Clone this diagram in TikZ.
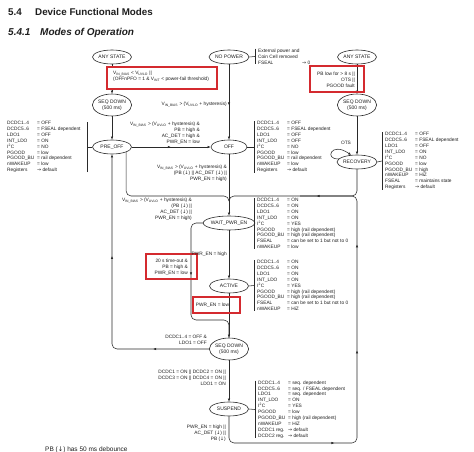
\documentclass[tikz,border=0pt]{standalone}
\usepackage{fontspec}
\setmainfont{Liberation Sans}
\newfontfamily\symf{DejaVu Sans}
\usetikzlibrary{shapes.geometric,arrows.meta,decorations.markings}
\newcommand\mydn{{\symf\char"2193}}
\newcommand\myto{{\symf\char"2192}}
\newcommand\li[2]{\makebox[30pt][l]{#1}#2}
\newcommand\itc{I\textsuperscript{2}C}
\newcommand\vib{V\textsubscript{IN\_BIAS}}
\newcommand\vuv{V\textsubscript{UVLO}}
\definecolor{tc}{HTML}{1E1E1E}
\definecolor{lc}{HTML}{2A2A2A}
\definecolor{rb}{HTML}{D42A2F}
\tikzset{
 st/.style={ellipse, draw=lc, line width=0.6pt, minimum width=39pt, minimum height=14pt, inner sep=0pt, font=\fontsize{5}{5.6}\selectfont, align=center, fill=white, text=tc},
 st2/.style={st, minimum height=22pt},
 ln/.style={draw=lc, line width=0.55pt},
 arr/.style={ln, -{Latex[length=3pt,width=2.4pt]}},
 mk/.style={postaction={decorate,decoration={markings,mark=at position #1 with {\arrow{Latex[length=3pt,width=2.4pt]}}}}},
 lab/.style={font=\fontsize{4.8}{5.9}\selectfont, inner sep=0pt, text=tc},
 labr/.style={lab, align=right, anchor=east},
 labl/.style={lab, align=left, anchor=west},
 redbox/.style={draw=rb, line width=1.4pt, inner sep=0pt},
 head/.style={anchor=base west, inner sep=0pt, text=tc},
}
\begin{document}
\begin{tikzpicture}[x=1pt,y=-1pt]
\fill[white] (0,0) rectangle (474,452);
\useasboundingbox (0,0) rectangle (474,452);

% headings
\node[head, font=\fontsize{9.8}{12}\selectfont\bfseries] (h1a) at (8,16) {5.4};
\node[head, font=\fontsize{9.8}{12}\selectfont\bfseries] (h1b) at (35,16) {Device Functional Modes};
\node[head, font=\fontsize{10}{12}\selectfont\bfseries\itshape] (h2a) at (8,36) {5.4.1};
\node[head, font=\fontsize{10}{12}\selectfont\bfseries\itshape] (h2b) at (40,36) {Modes of Operation};

% states
\node[st] (anyL) at (112,57) {ANY STATE};
\node[st, minimum width=40pt] (nopow) at (229,57) {NO POWER};
\node[st] (anyR) at (357,57) {ANY STATE};
\node[st2] (seqL) at (112,105) {SEQ DOWN\\(500 ms)};
\node[st2] (seqR) at (357,105) {SEQ DOWN\\(500 ms)};
\node[st] (preoff) at (112,147) {PRE\_OFF};
\node[st, minimum width=36pt] (off) at (229,147) {OFF};
\node[st, minimum width=40pt] (recov) at (357,162) {RECOVERY};
\node[st, minimum width=40pt] (wait) at (229,223) {WAIT\_PWR\_EN};
\node[st] (active) at (229,286) {ACTIVE};
\node[st2] (seqd) at (229,349) {SEQ DOWN\\(500 ms)};
\node[st] (susp) at (229,409) {SUSPEND};

% connectors
\draw[arr] (anyL) -- (seqL);
\draw[arr] (anyR) -- (seqR);
\draw[arr, mk=41pt] (nopow) -- (off);
\draw[arr] (seqL) -- (preoff);
\draw[arr] (seqR) -- (recov);
\draw[arr, mk=39pt] (preoff) -- (off);
\coordinate (jn) at (229,201);
\draw[ln] (off) -- (jn);
\draw[ln, rounded corners=5pt] (preoff.-20) |- (229,196) -- (jn);
\draw[ln, rounded corners=5pt, mk=65pt] (recov.south) |- (229,196) -- (jn);
\draw[ln, rounded corners=5pt, mk=130pt, mk=243pt, mk=349pt] (susp.south) |- (357,443) -- (357,196) -- (300,196);
\draw[arr] (jn) -- (wait);
\draw[arr] (wait) -- (active);
\draw[arr] (active) -- (seqd);
\draw[ln, rounded corners=5pt, mk=62pt] (wait.west) -| (191,320) -| (seqd.north);
\draw[arr, rounded corners=5pt, mk=56pt, mk=188pt] (seqd.west) -| (preoff.south);
\draw[arr] (seqd) -- (susp);
\draw[arr] (recov.170) .. controls (324,160) and (331,141) .. (recov.130);
\node[lab] (ots) at (346,143) {OTS};

% red boxes
\node[redbox, fill=white, minimum width=110pt, minimum height=22pt] (rbA) at (162,78) {};
\node[labl] (tA) at (113,76.5) {\vib{} < \vuv{} ||\\(OFFnPFO = 1 \& V\textsubscript{INT} < power-fail threshold)};
\node[redbox, minimum width=54pt, minimum height=26pt] (rbB) at (337,79) {};
\node[labr] (tB) at (355,79.5) {PB low for > 8 s ||\\OTS ||\\PGOOD fault};
\node[redbox, minimum width=51pt, minimum height=25pt] (rbC) at (171.5,266.5) {};
\node[labr] (tC) at (188,267) {20 s time-out \&\\PB = high \&\\PWR\_EN = low};
\node[redbox, minimum width=47pt, minimum height=16pt] (rbD) at (216.5,305) {};
\node[lab] (tD) at (212.5,305) {PWR\_EN = low};

% transition labels
\node[labr] (lbNP) at (227,105) {\vib{} > (\vuv{} + hysteresis)};
\node[labr] (lbPO) at (200,133) {\vib{} > (\vuv{} + hysteresis) \&\\PB = high \&\\AC\_DET = high \&\\PWR\_EN = low};
\node[labr] (lbOF) at (227,173.5) {\vib{} > (\vuv{} + hysteresis) \&\\(PB (\mydn) || AC\_DET (\mydn) ||\\PWR\_EN = high)};
\node[labr] (lbPW) at (192,209.5) {\vib{} > (\vuv{} + hysteresis) \&\\(PB (\mydn) ||\\AC\_DET (\mydn) ||\\PWR\_EN = high)};
\node[labr] (lbWA) at (227,254) {PWR\_EN = high};
\node[labr] (lbSD) at (207,340) {DCDC1..4 = OFF \&\\LDO1 = OFF};
\node[labr] (lbSS) at (226,378) {DCDC1 = ON || DCDC2 = ON ||\\DCDC3 = ON || DCDC4 = ON ||\\LDO1 = ON};
\node[labr] (lbSU) at (226,433) {PWR\_EN = high ||\\AC\_DET (\mydn) ||\\PB (\mydn)};

% external power note
\node[labl] (ext) at (258,56.5) {External power and\\Coin Cell removed\\FSEAL};
\draw[ln] ([xshift=-3pt]ext.north west) -- ([xshift=-3pt]ext.south west);
\draw[ln] (nopow.east) -- ([xshift=-3pt]ext.west);
\node[lab, anchor=west] (ext0) at (302,63) {\myto\ 0};

% state lists
\node[labl] (lPre) at (7,147) {\li{DCDC1..4}{= OFF}\\\li{DCDC5..6}{= FSEAL dependent}\\\li{LDO1}{= OFF}\\\li{INT\_LDO}{= ON}\\\li{\itc}{= NO}\\\li{PGOOD}{= low}\\\li{PGOOD\_BU}{= rail dependent}\\\li{nWAKEUP}{= low}\\\li{Registers}{\myto\ default}};
\coordinate (bPre) at (87,147);
\draw[ln] ([yshift=-25pt]bPre) -- ([yshift=25pt]bPre);
\draw[ln] (preoff.west) -- (bPre);

\node[labl] (lOff) at (257,147) {\li{DCDC1..4}{= OFF}\\\li{DCDC5..6}{= FSEAL dependent}\\\li{LDO1}{= OFF}\\\li{INT\_LDO}{= OFF}\\\li{\itc}{= NO}\\\li{PGOOD}{= low}\\\li{PGOOD\_BU}{= rail dependent}\\\li{nWAKEUP}{= low}\\\li{Registers}{\myto\ default}};
\draw[ln] ([xshift=-3pt]lOff.north west) -- ([xshift=-3pt]lOff.south west);
\draw[ln] (off.east) -- ([xshift=-3pt]lOff.west);

\node[labl] (lRec) at (385,161) {\li{DCDC1..4}{= OFF}\\\li{DCDC5..6}{= FSEAL dependent}\\\li{LDO1}{= OFF}\\\li{INT\_LDO}{= ON}\\\li{\itc}{= NO}\\\li{PGOOD}{= low}\\\li{PGOOD\_BU}{= high}\\\li{nWAKEUP}{= HiZ}\\\li{FSEAL}{= maintains state}\\\li{Registers}{\myto\ default}};
\draw[ln] ([xshift=-3pt]lRec.north west) -- ([xshift=-3pt]lRec.south west);
\draw[ln] (recov.east) -- ([xshift=-3pt]lRec.west);

\node[labl] (lWait) at (257,223.5) {\li{DCDC1..4}{= ON}\\\li{DCDC5..6}{= ON}\\\li{LDO1}{= ON}\\\li{INT\_LDO}{= ON}\\\li{\itc}{= YES}\\\li{PGOOD}{= high (rail dependent)}\\\li{PGOOD\_BU}{= high (rail dependent)}\\\li{FSEAL}{= can be set to 1 but not to 0}\\\li{nWAKEUP}{= low}};
\draw[ln] ([xshift=-3pt]lWait.north west) -- ([xshift=-3pt]lWait.south west);
\draw[ln] (wait.east) -- ([xshift=-3pt]lWait.west);

\node[labl] (lAct) at (257,285.5) {\li{DCDC1..4}{= ON}\\\li{DCDC5..6}{= ON}\\\li{LDO1}{= ON}\\\li{INT\_LDO}{= ON}\\\li{\itc}{= YES}\\\li{PGOOD}{= high (rail dependent)}\\\li{PGOOD\_BU}{= high (rail dependent)}\\\li{FSEAL}{= can be set to 1 but not to 0}\\\li{nWAKEUP}{= HiZ}};
\draw[ln] ([xshift=-3pt]lAct.north west) -- ([xshift=-3pt]lAct.south west);
\draw[ln] (active.east) -- ([xshift=-3pt]lAct.west);

\node[labl] (lSus) at (258,409.5) {\li{DCDC1..4}{= seq. dependent}\\\li{DCDC5..6}{= seq. / FSEAL dependent}\\\li{LDO1}{= seq. dependent}\\\li{INT\_LDO}{= ON}\\\li{\itc}{= YES}\\\li{PGOOD}{= low}\\\li{PGOOD\_BU}{= high (rail dependent)}\\\li{nWAKEUP}{= HiZ}\\\li{DCDC1 reg.}{\myto\ default}\\\li{DCDC2 reg.}{\myto\ default}};
\draw[ln] ([xshift=-3pt]lSus.north west) -- ([xshift=-3pt]lSus.south west);
\draw[ln] (susp.east) -- ([xshift=-3pt]lSus.west);

% footnote
\node[head, font=\fontsize{6.5}{8}\selectfont] (foot) at (45,451.5) {PB (\mydn) has 50 ms debounce};
\end{tikzpicture}
\end{document}
